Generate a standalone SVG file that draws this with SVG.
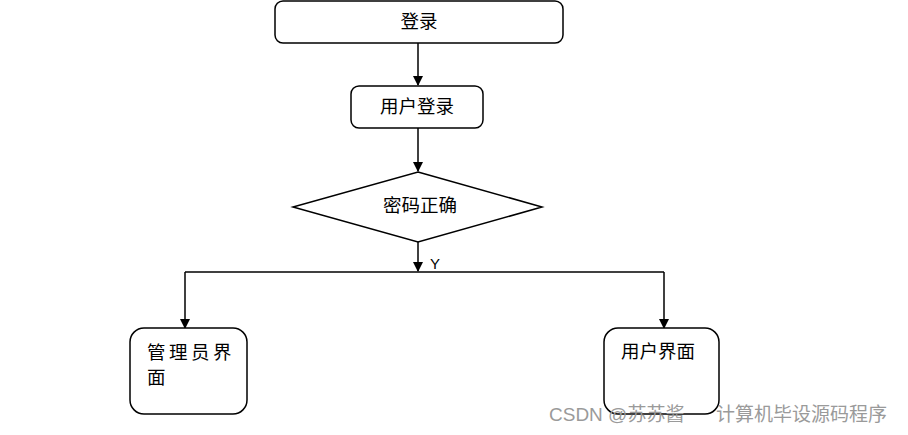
<svg xmlns="http://www.w3.org/2000/svg" width="908" height="435" viewBox="0 0 908 435">
<style>
.n{fill:#fff;stroke:#000;stroke-width:1.5}
.t{font-family:"Liberation Serif","Noto Sans CJK SC",serif;font-size:18.5px;fill:#000}
.c{fill:none;stroke:#000;stroke-width:1.5}
.w{font-family:"Liberation Sans","Noto Sans CJK SC",sans-serif;font-size:19px;fill:#9a9a9a}
</style>
<defs>
<marker id="a" markerWidth="10" markerHeight="10" refX="9" refY="5" orient="auto" markerUnits="userSpaceOnUse">
<path d="M0,0 L10,5 L0,10 z" fill="#000"/>
</marker>
</defs>
<rect width="908" height="435" fill="#fff"/>
<g id="connectors">
<line class="c" x1="418" y1="43" x2="418" y2="85" marker-end="url(#a)"/>
<line class="c" x1="418" y1="128" x2="418" y2="171" marker-end="url(#a)"/>
<line class="c" x1="418" y1="242" x2="418" y2="271" marker-end="url(#a)"/>
<polyline class="c" points="185,272 664,272"/>
<line class="c" x1="185" y1="272" x2="185" y2="328" marker-end="url(#a)"/>
<line class="c" x1="664" y1="272" x2="664" y2="328" marker-end="url(#a)"/>
<text x="430" y="269" font-family="Liberation Sans,sans-serif" font-size="15" fill="#000">Y</text>
</g>
<g id="n1">
<rect class="n" x="275" y="1" width="288" height="42" rx="8"/>
<text class="t" x="419" y="28" text-anchor="middle">登录</text>
</g>
<g id="n2">
<rect class="n" x="351" y="86" width="132" height="42" rx="8"/>
<text class="t" x="417" y="113" text-anchor="middle">用户登录</text>
</g>
<g id="n3">
<polygon class="n" points="418,172 542,207 418,242 293,207"/>
<text class="t" x="420" y="212" text-anchor="middle">密码正确</text>
</g>
<g id="n4">
<rect class="n" x="130" y="328" width="117" height="86" rx="14"/>
<text class="t" x="147" y="359" letter-spacing="3.5">管理员界</text>
<text class="t" x="147" y="384">面</text>
</g>
<g id="n5">
<rect class="n" x="604" y="328" width="115" height="86" rx="14"/>
<text class="t" x="621" y="358">用户界面</text>
</g>
<text class="w" x="549" y="421">CSDN @苏苏酱</text>
<text class="w" x="716" y="421">计算机毕设源码程序</text>
</svg>
